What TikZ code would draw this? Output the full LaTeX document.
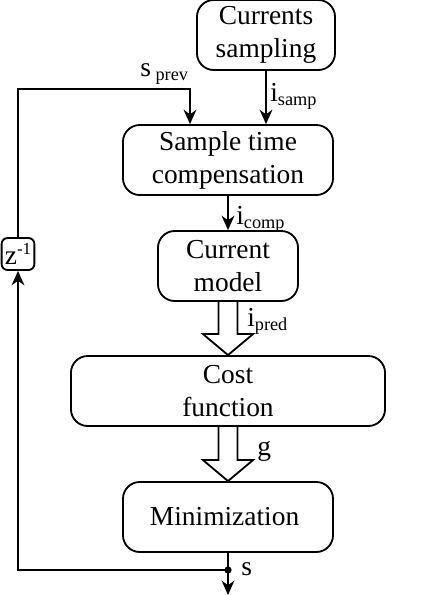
\documentclass[tikz,border=0pt]{standalone}
\usepackage{fontspec}
\setmainfont{Liberation Serif}
\usetikzlibrary{arrows.meta, calc}

\newcommand{\lowtext}[1]{\raisebox{-3pt}{\fontsize{13}{15}\selectfont #1}}
\newcommand{\hightext}[1]{\raisebox{7pt}{\fontsize{12}{14}\selectfont #1}}

\begin{document}
\begin{tikzpicture}
		[
			x=0.025cm, y=-0.025cm,
			block/.style={rectangle, rounded corners=0.42cm, draw, line width=1.3pt, minimum height=1.75cm, align=center, font=\fontsize{19.5}{23.5}\selectfont},
			delay/.style={rectangle, rounded corners=0.15cm, draw, line width=1.3pt, minimum width=0.82cm, minimum height=0.8cm, inner sep=1pt, font=\fontsize{19.5}{23.5}\selectfont},
			signal/.style={-{Stealth[length=0.36cm, width=0.32cm]}, line width=1.3pt},
			fat/.style={draw, line width=1.3pt},
			lbl/.style={anchor=base west, inner sep=0pt, font=\fontsize{19.5}{23.5}\selectfont},
		]

		\useasboundingbox (0,0) rectangle (438,595);

		% Nodes
		\foreach \name/\x/\y/\w/\txt in
		{
			samp/266/35/3.45/Currents\\sampling,
			comp/228/160/5.25/Sample time\\compensation,
			model/228/266/3.5/Current\\model,
			cost/228/391/7.85/Cost\\function,
			mini/228/517/5.25/Minimization
		}
			\node[block, minimum width=\w cm] (\name) at (\x,\y) {\txt};

		\node[delay] (delay) at (18,254) {z\hightext{-1}};

		\coordinate (split) at (228,570);
		\coordinate (out) at (228,595);

		% Labels
		\foreach \name/\x/\y/\txt in
		{
			sprev/140/76/s\lowtext{ prev},
			isamp/270/101/i\lowtext{samp},
			icomp/236/224/i\lowtext{comp},
			ipred/247/326/i\lowtext{pred},
			g/257/455/g,
			s/241/575/s
		}
			\node[lbl] (\name) at (\x,\y) {\txt};

		% Edges
		\draw[signal] (samp.south) -- (samp.south |- comp.north);
		\draw[signal] (comp) -- (model);
		\draw[signal] (mini.south) -- (out);
		\fill (split) circle (2.6pt);
		\draw[signal] (split) -| (delay.south);
		\draw[signal] (delay.north) |- ($(comp.north)+(-38,-35)$) -- ($(comp.north)+(-38,0)$);

		\foreach \u/\v in
		{
			model/cost,
			cost/mini}
			\draw[fat] ($(\u.south)+(-9.5,0)$) |- ($(\v.north)+(-25,-21)$) -- (\v.north) -- ($(\v.north)+(25,-21)$) -| ($(\u.south)+(9.5,0)$);

		\end{tikzpicture}
\end{document}
